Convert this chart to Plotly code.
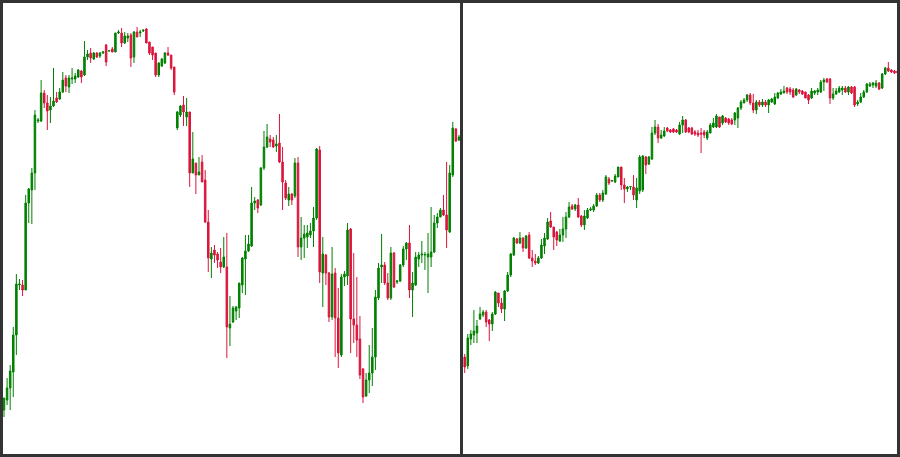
import plotly.graph_objects as go
from plotly.subplots import make_subplots

# ---- Left panel series ----
left_open = [90, 100, 112, 128, 165, 215, 215, 210, 297, 310,
             327, 379, 379, 407, 397, 390, 394, 402, 401, 408,
             422, 413, 421, 421, 423, 429, 425, 443, 447, 441,
             447, 444, 447, 455, 449, 451, 448, 467, 467, 457,
             462, 465, 443, 468, 467, 469, 471, 458, 453, 447,
             425, 434, 437, 447, 445, 433, 372, 385, 395, 383,
             388, 327, 337, 325, 338, 320, 278, 241, 250, 246,
             238, 233, 233, 172, 178, 189, 192, 215, 241, 249,
             254, 297, 300, 295, 332, 353, 361, 360, 354, 357,
             338, 317, 300, 306, 304, 337, 253, 262, 263, 265,
             269, 282, 350, 227, 245, 227, 183, 227, 182, 145,
             223, 224, 271, 181, 175, 161, 131, 104, 120, 127,
             143, 202, 233, 235, 217, 202, 247, 218, 219, 235,
             251, 257, 210, 215, 241, 245, 245, 243, 243, 248,
             277, 283, 290, 285, 268, 325, 371, 360]
left_high = [102, 122, 135, 173, 226, 221, 220, 305, 312, 332,
             390, 382, 420, 410, 405, 403, 432, 408, 412, 428,
             425, 425, 432, 427, 431, 430, 459, 450, 452, 448,
             448, 448, 449, 456, 450, 453, 467, 470, 472, 468,
             467, 467, 469, 473, 470, 470, 472, 458, 453, 447,
             438, 442, 448, 453, 445, 433, 389, 395, 404, 402,
             388, 368, 337, 343, 345, 330, 290, 253, 255, 248,
             252, 263, 267, 204, 194, 194, 217, 243, 265, 265,
             313, 303, 301, 333, 369, 376, 365, 363, 365, 386,
             353, 320, 313, 307, 342, 343, 283, 275, 275, 277,
             293, 352, 354, 263, 246, 228, 253, 232, 212, 226,
             229, 277, 272, 247, 223, 184, 132, 127, 155, 172,
             210, 237, 266, 238, 227, 253, 248, 220, 236, 254,
             258, 275, 228, 248, 248, 259, 248, 267, 293, 285,
             287, 292, 305, 338, 335, 378, 372, 365]
left_low = [83, 95, 90, 103, 145, 210, 204, 210, 277, 276,
            310, 377, 378, 392, 370, 377, 393, 397, 400, 407,
            408, 407, 416, 417, 422, 417, 424, 440, 437, 440,
            442, 442, 446, 434, 448, 448, 448, 466, 453, 456,
            458, 433, 437, 463, 463, 468, 457, 445, 440, 423,
            423, 433, 436, 444, 430, 405, 370, 383, 374, 374,
            313, 327, 306, 325, 318, 277, 228, 222, 237, 232,
            227, 232, 142, 154, 177, 180, 182, 207, 205, 248,
            253, 290, 287, 294, 330, 352, 353, 352, 348, 337,
            290, 300, 294, 295, 302, 243, 240, 242, 252, 262,
            253, 280, 217, 193, 215, 178, 180, 143, 132, 143,
            214, 215, 147, 157, 143, 121, 97, 103, 107, 114,
            130, 200, 217, 215, 200, 200, 212, 216, 218, 233,
            240, 202, 183, 214, 233, 237, 230, 207, 233, 247,
            272, 283, 284, 252, 267, 323, 358, 359]
left_close = [102, 112, 129, 165, 216, 216, 210, 297, 311, 327,
              385, 380, 407, 397, 389, 394, 399, 398, 408, 420,
              414, 422, 422, 424, 430, 423, 443, 446, 442, 447,
              443, 447, 448, 438, 449.5, 448, 467, 468, 457, 464,
              464, 442, 468, 463, 468, 470, 457, 447, 445, 425,
              437, 441, 447, 445, 432, 408, 388, 394, 388, 388,
              327, 341, 325, 328, 318, 278, 242, 247, 245, 240,
              233, 243, 173, 176, 192, 193, 217, 242, 249, 256,
              297, 299, 292, 332, 353, 363, 358, 353, 356, 338,
              318, 302, 306, 300, 337, 253, 262, 266, 267, 269,
              282, 351, 228, 246, 227, 183, 226, 182, 147, 223,
              226, 270, 181, 175, 160, 125, 103, 120, 127, 143,
              203, 232, 235, 217, 202, 247, 213, 219, 235, 251,
              257, 210, 217, 243, 245, 246, 245.5, 246, 248, 277,
              283, 290, 285, 270, 327, 372, 359, 363]

# ---- Right panel series ----
right_open = [143, 134, 161, 165, 167, 181, 185, 188, 180, 176,
              186, 207, 197, 191, 209, 225, 245, 261, 257, 262,
              252, 265, 242, 239, 237, 242, 254, 261, 279, 273,
              268, 259, 265, 271, 283, 294, 291, 295, 284, 275,
              282, 290, 290, 294, 305, 300, 306, 321, 319, 318,
              323, 333, 315, 311, 313, 313, 300, 309, 310, 343,
              336, 341, 367, 373, 362, 364, 372, 370, 371, 370,
              366, 375, 380, 372, 372, 368, 367, 367, 368, 362,
              367, 373, 373, 383, 377, 382, 381, 380, 380, 382,
              392, 397, 400, 405, 397, 390, 398, 395, 398, 395,
              398, 396, 402, 406, 407, 412, 411, 410, 405, 410,
              409, 408, 405, 402, 407, 408, 408, 418, 421, 421,
              402, 406, 408, 410, 412, 408, 413, 413, 396, 398,
              403, 408, 414, 415, 414, 417, 412, 426, 432, 430,
              429, 429]
right_high = [146, 166, 170, 190, 180, 193, 190, 190, 181, 188,
              209, 207, 202, 210, 228, 247, 263, 262, 268, 263,
              265, 268, 250, 246, 244, 261, 267, 282, 288, 273,
              269, 271, 283, 288, 298, 296, 296, 302, 285, 290,
              292, 293, 296, 307, 307, 310, 325, 323, 320, 326,
              333, 333, 322, 314, 314, 325, 322, 345, 345, 344,
              344, 373, 380, 376, 370, 373, 373, 371, 372, 371,
              378, 384, 381, 373, 373, 370, 370, 372, 370, 370,
              377, 382, 386, 383, 385, 383, 382, 382, 388, 393,
              400, 402, 406, 407, 406, 400, 400, 401, 400, 401,
              402, 407, 408, 411, 414, 413, 413, 412, 412, 411,
              410, 408, 406, 412, 410, 412, 420, 422, 422, 422,
              412, 412, 414, 414, 414, 414, 414, 414, 400, 407,
              410, 417, 418, 418, 420, 418, 427, 433, 438, 431,
              430, 430]
right_low = [127, 131, 155, 157, 157, 180, 183, 173, 159, 169,
             185, 193, 187, 179, 208, 223, 244, 256, 256, 248,
             251, 241, 233, 235, 236, 241, 246, 260, 272, 250,
             254, 258, 258, 262, 282, 290, 289, 282, 273, 270,
             281, 289, 288, 293, 298, 298, 305, 315, 318, 317,
             323, 310, 297, 308, 310, 300, 292, 306, 308, 326,
             335, 340, 365, 357, 361, 363, 368, 367, 367, 367,
             365, 367, 367, 367, 365, 364, 363, 347, 362, 360,
             367, 372, 372, 372, 375, 377, 375, 375, 375, 372,
             390, 397, 398, 395, 387, 386, 393, 393, 393, 387,
             397, 395, 401, 405, 407, 406, 405, 402, 404, 406,
             405, 402, 396, 401, 405, 405, 407, 409, 417, 396,
             400, 405, 407, 405, 407, 405, 406, 393, 394, 397,
             402, 407, 413, 412, 412, 410, 411, 425, 428, 427,
             426, 426]
right_close = [133, 162, 166, 169, 174, 186, 188, 178, 176, 186,
               208, 197, 191, 209, 225, 246, 262, 257, 262, 252,
               264, 242, 239, 237, 242, 255, 262, 278, 273, 263,
               260, 265, 271, 283, 293, 291, 295, 283, 275, 284,
               290, 291, 294, 305, 300, 307, 323, 317, 319.5, 324,
               333, 315, 311, 313, 313.5, 305, 312, 343, 344, 335,
               343, 367, 373, 362, 365, 369, 369, 368, 368, 368,
               375, 380, 368, 368, 366, 366, 365, 366, 365, 368,
               375, 377, 384, 373, 384, 378, 377, 376, 387, 392,
               398, 400, 405, 397, 390, 398, 395, 398, 395, 400,
               401, 403, 407, 408, 409, 408, 408, 403, 411, 408,
               406, 402, 400, 409, 409, 410, 418, 420, 418, 402,
               406, 409, 412, 412, 408, 413, 407, 395, 398, 403,
               408, 416, 416, 417, 417, 411, 426, 432, 429, 428,
               427, 427]

UP = "#008000"
DOWN = "#DC143C"
FRAME = "#333333"

W, H = 900, 457
M = 3
plot_w = W - 2 * M
left_dom = [0, (460 - M) / plot_w]
right_dom = [(463 - M) / plot_w, 1]

fig = make_subplots(rows=1, cols=2, horizontal_spacing=0)


def candles(o, h, l, c):
    return go.Candlestick(
        x=list(range(len(o))), open=o, high=h, low=l, close=c,
        increasing=dict(line=dict(color=UP, width=1), fillcolor=UP),
        decreasing=dict(line=dict(color=DOWN, width=1), fillcolor=DOWN),
        whiskerwidth=0, showlegend=False, hoverinfo="skip",
    )


fig.add_trace(candles(left_open, left_high, left_low, left_close), row=1, col=1)
fig.add_trace(candles(right_open, right_high, right_low, right_close), row=1, col=2)

axis_off = dict(showgrid=False, zeroline=False, showticklabels=False,
                showline=False, ticks="", fixedrange=True)
fig.update_xaxes(**axis_off, rangeslider_visible=False)
fig.update_yaxes(**axis_off)

left_n = len(left_open)
right_n = len(right_open)
fig.update_layout(
    width=W, height=H,
    margin=dict(l=M, r=M, t=M, b=M, pad=0),
    paper_bgcolor=FRAME, plot_bgcolor="white",
    xaxis=dict(domain=left_dom, range=[-0.32, left_n - 0.67]),
    xaxis2=dict(domain=right_dom, range=[-0.55, right_n - 1.18]),
    yaxis=dict(range=[46, 497]),
    yaxis2=dict(range=[46, 497]),
)

fig.write_html(
    "out.html",
    config={"displayModeBar": False},
    post_script="document.body.style.margin='0';document.body.style.overflow='hidden';",
)
